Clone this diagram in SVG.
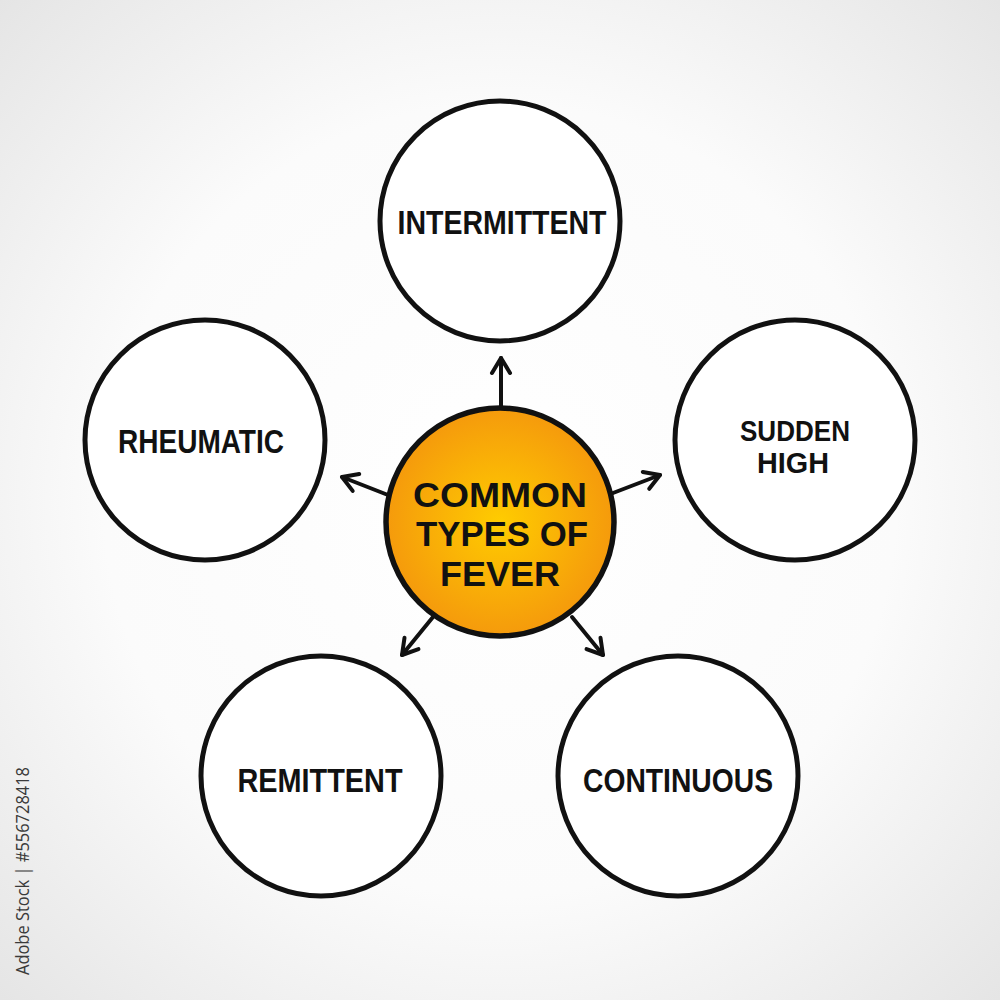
<svg xmlns="http://www.w3.org/2000/svg" width="1000" height="1000" viewBox="0 0 1000 1000">
  <defs>
    <radialGradient id="bg" cx="50%" cy="50%" r="72%">
      <stop offset="0" stop-color="#ffffff"/>
      <stop offset="0.55" stop-color="#fbfbfb"/>
      <stop offset="1" stop-color="#e4e4e4"/>
    </radialGradient>
    <radialGradient id="hub" cx="50%" cy="50%" r="50%">
      <stop offset="0" stop-color="#ffcc00"/>
      <stop offset="1" stop-color="#f59a0c"/>
    </radialGradient>
    <marker id="arr" markerUnits="userSpaceOnUse" viewBox="0 0 20 20" refX="17" refY="10" markerWidth="20" markerHeight="20" orient="auto" overflow="visible">
      <path d="M2,1 L17,10 L2,19" fill="none" stroke="#111" stroke-width="4" stroke-linecap="round" stroke-linejoin="round"/>
    </marker>
    <style>
      .node { fill: #ffffff; stroke: #111; stroke-width: 5; }
      .hub { fill: url(#hub); stroke: #111; stroke-width: 5.5; }
      .lbl { font-family: "Liberation Sans", "DejaVu Sans", sans-serif; font-weight: bold; fill: #111; text-anchor: middle; }
      .conn line { stroke: #111; stroke-width: 4; stroke-linecap: round; marker-end: url(#arr); }
    </style>
  </defs>
  <rect x="0" y="0" width="1000" height="1000" fill="url(#bg)"/>

  <g id="connectors" class="conn">
    <line x1="501" y1="406" x2="501" y2="358"/>
    <line x1="388" y1="495" x2="342" y2="477"/>
    <line x1="613" y1="493" x2="660" y2="475"/>
    <line x1="433" y1="617" x2="402" y2="655"/>
    <line x1="572" y1="617" x2="603" y2="655"/>
  </g>

  <g id="node-intermittent">
    <circle class="node" cx="500" cy="221" r="120"/>
    <text class="lbl" x="502" y="234" font-size="34" textLength="209" lengthAdjust="spacingAndGlyphs">INTERMITTENT</text>
  </g>
  <g id="node-rheumatic">
    <circle class="node" cx="205" cy="440" r="120"/>
    <text class="lbl" x="201" y="453" font-size="34" textLength="166" lengthAdjust="spacingAndGlyphs">RHEUMATIC</text>
  </g>
  <g id="node-sudden-high">
    <circle class="node" cx="795" cy="440" r="120"/>
    <text class="lbl" x="795" y="441" font-size="29" textLength="110" lengthAdjust="spacingAndGlyphs">SUDDEN</text>
    <text class="lbl" x="793" y="473" font-size="29" textLength="72" lengthAdjust="spacingAndGlyphs">HIGH</text>
  </g>
  <g id="node-remittent">
    <circle class="node" cx="321" cy="776" r="120"/>
    <text class="lbl" x="320" y="792" font-size="34" textLength="165" lengthAdjust="spacingAndGlyphs">REMITTENT</text>
  </g>
  <g id="node-continuous">
    <circle class="node" cx="678" cy="776" r="120"/>
    <text class="lbl" x="678" y="792" font-size="34" textLength="190" lengthAdjust="spacingAndGlyphs">CONTINUOUS</text>
  </g>
  <g id="node-center">
    <circle class="hub" cx="500" cy="522" r="114"/>
    <text class="lbl" x="500" y="507" font-size="35" textLength="174" lengthAdjust="spacingAndGlyphs">COMMON</text>
    <text class="lbl" x="502" y="546" font-size="35" textLength="172" lengthAdjust="spacingAndGlyphs">TYPES OF</text>
    <text class="lbl" x="500" y="586" font-size="35" textLength="120" lengthAdjust="spacingAndGlyphs">FEVER</text>
  </g>

  <text x="29" y="975" transform="rotate(-90 29 975)" font-family="'Open Sans', 'Noto Sans', sans-serif" font-size="19" fill="#3a3a3a" textLength="208" lengthAdjust="spacingAndGlyphs">Adobe Stock | #556728418</text>
</svg>
